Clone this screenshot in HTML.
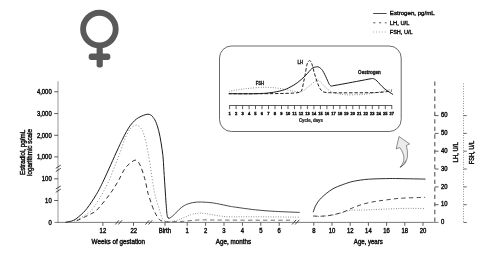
<!DOCTYPE html>
<html>
<head>
<meta charset="utf-8">
<title>Estrogen, LH and FSH levels</title>
<style>
html,body{margin:0;padding:0;background:#fff;}
body{width:496px;height:257px;overflow:hidden;}
svg{display:block;}
text{font-family:"Liberation Sans",sans-serif;fill:#111;stroke:#111;stroke-width:0.4px;}
.t{font-size:6.3px;}
.s{font-size:4.4px;font-weight:bold;stroke-width:0.1px;}
.ax{stroke:#a8a8a8;stroke-width:1;fill:none;}
.axx{stroke:#5a5a5a;stroke-width:0.8;fill:none;}
.tk{stroke:#333;stroke-width:0.8;fill:none;}
.sol{stroke:#1a1a1a;stroke-width:1;fill:none;stroke-linecap:round;stroke-linejoin:round;}
.das{stroke:#1a1a1a;stroke-width:0.9;fill:none;stroke-dasharray:4.3 3.25;}
.dot{stroke:#555;stroke-width:0.8;fill:none;stroke-dasharray:0.8 1.65;}
</style>
</head>
<body>
<svg width="496" height="257" viewBox="0 0 496 257">
<rect width="496" height="257" fill="#fff"/>

<!-- female symbol -->
<circle cx="99.4" cy="29.1" r="16.3" stroke="#595959" stroke-width="5.9" fill="none"/>
<rect x="96.6" y="46.5" width="6.2" height="21.1" rx="2.3" fill="#595959"/>
<rect x="88.7" y="53.4" width="21.6" height="6.5" rx="2.6" fill="#595959"/>

<!-- legend -->
<line class="sol" x1="373.2" y1="13.5" x2="386.6" y2="13.5" style="stroke:#333;stroke-width:0.9;stroke-linecap:butt"/>
<line class="das" x1="373.2" y1="22.8" x2="386.6" y2="22.8" style="stroke-dasharray:2.2 3.6;stroke:#444"/>
<line class="dot" x1="373.2" y1="32" x2="386.6" y2="32" style="stroke-dasharray:0.8 2.1;stroke:#777"/>
<text class="t" style="font-size:6.1px" x="389.8" y="15" textLength="44.9" lengthAdjust="spacingAndGlyphs">Estrogen, pg/mL</text>
<text class="t" style="font-size:6.1px" x="389.8" y="24.9" textLength="19.6" lengthAdjust="spacingAndGlyphs">LH, U/L</text>
<text class="t" style="font-size:6.1px" x="389.8" y="34.2" textLength="22.7" lengthAdjust="spacingAndGlyphs">FSH, U/L</text>

<!-- inset box -->
<rect x="219.5" y="46" width="181.7" height="85.5" rx="12" ry="12" fill="#fff" stroke="#444" stroke-width="0.8"/>
<!-- inset axis -->
<g class="tk" id="insetticks">
<line x1="229.2" y1="105.5" x2="392.1" y2="105.5"/>
<line x1="229.6" y1="105.5" x2="229.6" y2="109.2"/>
<line x1="236.1" y1="105.5" x2="236.1" y2="109.2"/>
<line x1="242.6" y1="105.5" x2="242.6" y2="109.2"/>
<line x1="249.1" y1="105.5" x2="249.1" y2="109.2"/>
<line x1="255.5" y1="105.5" x2="255.5" y2="109.2"/>
<line x1="262.0" y1="105.5" x2="262.0" y2="109.2"/>
<line x1="268.5" y1="105.5" x2="268.5" y2="109.2"/>
<line x1="275.0" y1="105.5" x2="275.0" y2="109.2"/>
<line x1="281.5" y1="105.5" x2="281.5" y2="109.2"/>
<line x1="288.0" y1="105.5" x2="288.0" y2="109.2"/>
<line x1="294.5" y1="105.5" x2="294.5" y2="109.2"/>
<line x1="300.9" y1="105.5" x2="300.9" y2="109.2"/>
<line x1="307.4" y1="105.5" x2="307.4" y2="109.2"/>
<line x1="313.9" y1="105.5" x2="313.9" y2="109.2"/>
<line x1="320.4" y1="105.5" x2="320.4" y2="109.2"/>
<line x1="326.9" y1="105.5" x2="326.9" y2="109.2"/>
<line x1="333.4" y1="105.5" x2="333.4" y2="109.2"/>
<line x1="339.9" y1="105.5" x2="339.9" y2="109.2"/>
<line x1="346.3" y1="105.5" x2="346.3" y2="109.2"/>
<line x1="352.8" y1="105.5" x2="352.8" y2="109.2"/>
<line x1="359.3" y1="105.5" x2="359.3" y2="109.2"/>
<line x1="365.8" y1="105.5" x2="365.8" y2="109.2"/>
<line x1="372.3" y1="105.5" x2="372.3" y2="109.2"/>
<line x1="378.8" y1="105.5" x2="378.8" y2="109.2"/>
<line x1="385.3" y1="105.5" x2="385.3" y2="109.2"/>
<line x1="391.8" y1="105.5" x2="391.8" y2="109.2"/>
</g>
<g class="s" style="font-size:4.3px;stroke-width:0.15px" text-anchor="middle" id="insetlabels">
<text x="229.6" y="114.8" textLength="2.3" lengthAdjust="spacingAndGlyphs">1</text>
<text x="236.1" y="114.8" textLength="2.3" lengthAdjust="spacingAndGlyphs">2</text>
<text x="242.6" y="114.8" textLength="2.3" lengthAdjust="spacingAndGlyphs">3</text>
<text x="249.1" y="114.8" textLength="2.3" lengthAdjust="spacingAndGlyphs">4</text>
<text x="255.5" y="114.8" textLength="2.3" lengthAdjust="spacingAndGlyphs">5</text>
<text x="262.0" y="114.8" textLength="2.3" lengthAdjust="spacingAndGlyphs">6</text>
<text x="268.5" y="114.8" textLength="2.3" lengthAdjust="spacingAndGlyphs">7</text>
<text x="275.0" y="114.8" textLength="2.3" lengthAdjust="spacingAndGlyphs">8</text>
<text x="281.5" y="114.8" textLength="2.3" lengthAdjust="spacingAndGlyphs">9</text>
<text x="288.0" y="114.8" textLength="4.4" lengthAdjust="spacingAndGlyphs">10</text>
<text x="294.5" y="114.8" textLength="4.4" lengthAdjust="spacingAndGlyphs">11</text>
<text x="300.9" y="114.8" textLength="4.4" lengthAdjust="spacingAndGlyphs">12</text>
<text x="307.4" y="114.8" textLength="4.4" lengthAdjust="spacingAndGlyphs">13</text>
<text x="313.9" y="114.8" textLength="4.4" lengthAdjust="spacingAndGlyphs">14</text>
<text x="320.4" y="114.8" textLength="4.4" lengthAdjust="spacingAndGlyphs">15</text>
<text x="326.9" y="114.8" textLength="4.4" lengthAdjust="spacingAndGlyphs">16</text>
<text x="333.4" y="114.8" textLength="4.4" lengthAdjust="spacingAndGlyphs">17</text>
<text x="339.9" y="114.8" textLength="4.4" lengthAdjust="spacingAndGlyphs">18</text>
<text x="346.3" y="114.8" textLength="4.4" lengthAdjust="spacingAndGlyphs">19</text>
<text x="352.8" y="114.8" textLength="4.4" lengthAdjust="spacingAndGlyphs">20</text>
<text x="359.3" y="114.8" textLength="4.4" lengthAdjust="spacingAndGlyphs">21</text>
<text x="365.8" y="114.8" textLength="4.4" lengthAdjust="spacingAndGlyphs">22</text>
<text x="372.3" y="114.8" textLength="4.4" lengthAdjust="spacingAndGlyphs">23</text>
<text x="378.8" y="114.8" textLength="4.4" lengthAdjust="spacingAndGlyphs">24</text>
<text x="385.3" y="114.8" textLength="4.4" lengthAdjust="spacingAndGlyphs">25</text>
<text x="391.8" y="114.8" textLength="4.4" lengthAdjust="spacingAndGlyphs">27</text>
</g>
<text class="s" style="font-size:4.8px;stroke-width:0.2px" x="310.9" y="121.9" text-anchor="middle" textLength="23.8" lengthAdjust="spacingAndGlyphs">Cycle, days</text>
<text class="s" style="font-size:4.8px;stroke-width:0.28px" x="259.8" y="84.9" text-anchor="middle" textLength="8.2" lengthAdjust="spacingAndGlyphs">FSH</text>
<text class="s" style="font-size:4.8px;stroke-width:0.28px" x="300.2" y="64.3" text-anchor="middle" textLength="5.4" lengthAdjust="spacingAndGlyphs">LH</text>
<text class="s" style="font-size:4.8px;stroke-width:0.28px" x="369.5" y="74.4" text-anchor="middle" textLength="22.8" lengthAdjust="spacingAndGlyphs">Oestrogen</text>

<!-- inset curves -->
<path class="dot" d="M229.0,91.3 C231.7,90.9 238.9,89.5 245.0,88.8 C251.1,88.1 259.5,87.3 265.3,87.3 C271.1,87.2 275.4,87.9 280.0,88.5 C284.6,89.1 289.3,90.4 292.6,91.0 C295.9,91.6 298.1,92.1 300.0,92.0 C301.9,91.9 302.2,91.5 304.0,90.2 C305.8,89.0 308.8,86.2 311.0,84.5 C313.2,82.8 315.6,80.5 317.3,80.2 C319.1,80.0 320.0,81.7 321.5,83.0 C323.0,84.3 324.8,86.7 326.5,88.2 C328.2,89.7 329.4,91.0 332.0,92.0 C334.6,93.0 338.3,93.9 342.0,94.4 C345.7,94.9 349.3,94.9 354.0,94.8 C358.7,94.7 363.7,94.5 370.0,93.6 C376.3,92.7 388.3,90.0 392.0,89.3"/>
<path class="das" d="M229.0,93.7 C234.2,93.7 250.7,93.8 260.0,93.7 C269.3,93.7 278.7,93.6 285.0,93.4 C291.3,93.2 295.2,93.1 298.0,92.6 C300.8,92.1 300.8,92.0 301.7,90.2 C302.6,88.4 303.1,84.3 303.7,81.6 C304.3,78.9 304.8,76.5 305.3,73.8 C305.8,71.1 306.3,67.2 306.8,65.2 C307.3,63.2 307.9,62.3 308.4,61.5 C308.9,60.7 309.2,60.6 309.6,60.6 C310.0,60.6 310.4,60.7 310.8,61.5 C311.2,62.3 311.8,63.4 312.3,65.2 C312.9,67.0 313.4,69.7 314.1,72.2 C314.8,74.7 315.7,77.7 316.5,80.0 C317.3,82.3 318.0,84.6 318.8,86.3 C319.6,88.0 320.2,89.2 321.2,90.2 C322.2,91.2 322.7,91.9 325.0,92.3 C327.3,92.7 327.5,92.7 335.0,92.8 C342.5,92.9 362.2,92.8 370.0,92.7 C377.8,92.6 378.3,92.5 382.0,92.2 C385.7,91.9 390.3,91.1 392.0,90.9" style="stroke-dasharray:3.4 1.8;stroke-dashoffset:0.8;stroke-width:1;stroke:#222"/>
<path class="sol" d="M229.0,93.7 C233.3,93.7 248.2,93.9 255.0,93.7 C261.8,93.5 265.4,93.4 270.0,92.8 C274.6,92.2 279.2,91.2 282.5,90.3 C285.8,89.4 287.4,88.5 290.0,87.2 C292.6,85.9 295.2,84.4 297.8,82.4 C300.4,80.4 303.3,77.7 305.6,75.4 C307.9,73.1 310.1,70.0 311.8,68.6 C313.5,67.2 314.5,67.2 315.7,67.0 C316.9,66.8 317.6,66.5 318.8,67.1 C320.0,67.7 321.4,68.8 322.7,70.7 C324.0,72.6 325.6,76.3 326.6,78.5 C327.7,80.7 328.4,82.6 329.0,83.8 C329.6,85.0 329.9,85.2 330.3,85.6 C330.7,86.0 331.0,86.0 331.6,86.0 C332.2,86.0 331.8,86.0 334.0,85.6 C336.2,85.2 340.7,84.4 345.0,83.6 C349.3,82.8 355.8,81.6 360.0,80.8 C364.2,80.0 367.9,79.3 370.0,78.9 C372.1,78.5 371.8,78.5 372.6,78.5 C373.4,78.5 373.9,78.8 374.6,79.2 C375.3,79.6 375.4,79.5 377.0,81.0 C378.6,82.5 381.5,86.2 384.1,88.4 C386.7,90.6 391.3,93.3 392.7,94.3"/>

<!-- arrow -->
<path d="M399,136.5 L409.6,143.9 L406.3,145.5 C407.3,149 407.8,153 407.3,157.5 C406.6,162 404,165.3 400.1,167.3 C402.6,164.5 403.9,161.5 403.9,158.3 C403.9,154.5 402.2,151 399.8,147.6 L396.2,148.8 Z" fill="#ececec" stroke="#444" stroke-width="0.6" stroke-linejoin="round"/>
<path d="M405.6,160.5 C404.8,163.5 403,165.6 400.1,167.3" fill="none" stroke="#333" stroke-width="0.5"/>

<!-- main axes -->
<line class="ax" x1="58" y1="81.3" x2="58" y2="223" style="stroke-width:1.3;stroke:#b0b0b0"/>
<line class="axx" x1="54.5" y1="222.4" x2="438.5" y2="222.4"/>

<!-- y ticks -->
<g class="tk">
<line x1="54.2" y1="91.8" x2="58" y2="91.8"/>
<line x1="54.2" y1="113.6" x2="58" y2="113.6"/>
<line x1="54.2" y1="135.3" x2="58" y2="135.3"/>
<line x1="54.2" y1="156.9" x2="58" y2="156.9"/>
<line x1="54.2" y1="178.8" x2="58" y2="178.8"/>
<line x1="54.2" y1="200.5" x2="58" y2="200.5"/>

<!-- y breaks -->
<g style="stroke-width:0.9">
<line x1="55.8" y1="168.3" x2="60.8" y2="165.1"/>
<line x1="55.8" y1="171.5" x2="60.8" y2="168.3"/>
<line x1="55.8" y1="189.1" x2="60.8" y2="185.9"/>
<line x1="55.8" y1="192.3" x2="60.8" y2="189.1"/>
</g>
<!-- x ticks -->
<line x1="102.9" y1="222.5" x2="102.9" y2="225.8"/>
<line x1="133.5" y1="222.5" x2="133.5" y2="225.8"/>
<line x1="165" y1="222.5" x2="165" y2="225.8"/>
<line x1="187.2" y1="222.5" x2="187.2" y2="225.8"/>
<line x1="205.6" y1="222.5" x2="205.6" y2="225.8"/>
<line x1="224" y1="222.5" x2="224" y2="225.8"/>
<line x1="242.4" y1="222.5" x2="242.4" y2="225.8"/>
<line x1="260.8" y1="222.5" x2="260.8" y2="225.8"/>
<line x1="279.2" y1="222.5" x2="279.2" y2="225.8"/>
<line x1="313.8" y1="222.5" x2="313.8" y2="225.8"/>
<line x1="332" y1="222.5" x2="332" y2="225.8"/>
<line x1="350.2" y1="222.5" x2="350.2" y2="225.8"/>
<line x1="368.4" y1="222.5" x2="368.4" y2="225.8"/>
<line x1="386.6" y1="222.5" x2="386.6" y2="225.8"/>
<line x1="404.8" y1="222.5" x2="404.8" y2="225.8"/>
<line x1="423" y1="222.5" x2="423" y2="225.8"/>
<!-- x breaks -->
<g style="stroke-width:0.9">
<line x1="115.3" y1="224.5" x2="118.9" y2="220.3"/>
<line x1="118.3" y1="224.5" x2="121.9" y2="220.3"/>
<line x1="145.5" y1="224.5" x2="149.1" y2="220.3"/>
<line x1="148.5" y1="224.5" x2="152.2" y2="220.3"/>
<line x1="292" y1="224.5" x2="296.2" y2="219.8"/>
<line x1="295.1" y1="224.5" x2="299.3" y2="219.8"/>
</g>
</g>

<!-- y labels -->
<g class="t" text-anchor="end">
<text x="51.7" y="94.1" textLength="14.8" lengthAdjust="spacingAndGlyphs">4,000</text>
<text x="51.7" y="115.9" textLength="14.8" lengthAdjust="spacingAndGlyphs">3,000</text>
<text x="51.7" y="137.6" textLength="14.8" lengthAdjust="spacingAndGlyphs">2,000</text>
<text x="51.7" y="159.2" textLength="14.8" lengthAdjust="spacingAndGlyphs">1,000</text>
<text x="51.7" y="181.1" textLength="9.9" lengthAdjust="spacingAndGlyphs">100</text>
<text x="51.7" y="202.8" textLength="6.6" lengthAdjust="spacingAndGlyphs">10</text>
<text x="51.7" y="224.5" textLength="3.3" lengthAdjust="spacingAndGlyphs">0</text>
</g>
<text class="t" transform="translate(24.8,152.4) rotate(-90)" text-anchor="middle" textLength="45" lengthAdjust="spacingAndGlyphs">Estradiol, pg/mL</text>
<text class="t" transform="translate(32.1,152.5) rotate(-90)" text-anchor="middle" textLength="46.9" lengthAdjust="spacingAndGlyphs">logarithmic scale</text>

<!-- x labels -->
<g class="t" text-anchor="middle">
<text x="102.9" y="232.6" textLength="6.6" lengthAdjust="spacingAndGlyphs">12</text>
<text x="133.8" y="232.6" textLength="6.6" lengthAdjust="spacingAndGlyphs">22</text>
<text x="164.9" y="232.6" textLength="12.3" lengthAdjust="spacingAndGlyphs">Birth</text>
<text x="187.2" y="232.6" textLength="3.3" lengthAdjust="spacingAndGlyphs">1</text>
<text x="205.6" y="232.6" textLength="3.3" lengthAdjust="spacingAndGlyphs">2</text>
<text x="224" y="232.6" textLength="3.3" lengthAdjust="spacingAndGlyphs">3</text>
<text x="242.4" y="232.6" textLength="3.3" lengthAdjust="spacingAndGlyphs">4</text>
<text x="260.8" y="232.6" textLength="3.3" lengthAdjust="spacingAndGlyphs">5</text>
<text x="279.2" y="232.6" textLength="3.3" lengthAdjust="spacingAndGlyphs">6</text>
<text x="313.8" y="232.6" textLength="3.3" lengthAdjust="spacingAndGlyphs">8</text>
<text x="332" y="232.6" textLength="6.6" lengthAdjust="spacingAndGlyphs">10</text>
<text x="350.2" y="232.6" textLength="6.6" lengthAdjust="spacingAndGlyphs">12</text>
<text x="368.4" y="232.6" textLength="6.6" lengthAdjust="spacingAndGlyphs">14</text>
<text x="386.6" y="232.6" textLength="6.6" lengthAdjust="spacingAndGlyphs">16</text>
<text x="404.8" y="232.6" textLength="6.6" lengthAdjust="spacingAndGlyphs">18</text>
<text x="423" y="232.6" textLength="6.6" lengthAdjust="spacingAndGlyphs">20</text>
<text x="118.3" y="243.9" textLength="53.5" lengthAdjust="spacingAndGlyphs">Weeks of gestation</text>
<text x="233.4" y="243.9" textLength="35.4" lengthAdjust="spacingAndGlyphs">Age, months</text>
<text x="368.3" y="243.9" textLength="28.9" lengthAdjust="spacingAndGlyphs">Age, years</text>
</g>

<!-- right axes -->
<line class="das" x1="434.8" y1="81.5" x2="434.8" y2="222.5" style="stroke:#555;stroke-width:1.1"/>
<line class="dot" x1="463.5" y1="83.6" x2="463.5" y2="222.7"/>
<g class="tk">
<line x1="434.8" y1="204.7" x2="438.5" y2="204.7"/>
<line x1="434.8" y1="186.9" x2="438.5" y2="186.9"/>
<line x1="434.8" y1="169.0" x2="438.5" y2="169.0"/>
<line x1="434.8" y1="151.2" x2="438.5" y2="151.2"/>
<line x1="434.8" y1="133.4" x2="438.5" y2="133.4"/>
<line x1="434.8" y1="115.6" x2="438.5" y2="115.6"/>
</g>
<g class="tk" style="stroke:#444">
<line x1="463.5" y1="222.5" x2="466.8" y2="222.5"/>
<line x1="463.5" y1="204.7" x2="466.8" y2="204.7"/>
<line x1="463.5" y1="186.9" x2="466.8" y2="186.9"/>
<line x1="463.5" y1="169.0" x2="466.8" y2="169.0"/>
<line x1="463.5" y1="151.2" x2="466.8" y2="151.2"/>
<line x1="463.5" y1="133.4" x2="466.8" y2="133.4"/>
<line x1="463.5" y1="115.6" x2="466.8" y2="115.6"/>
</g>
<g class="t">
<text x="440.9" y="224.1" textLength="3.3" lengthAdjust="spacingAndGlyphs">0</text>
<text x="440.9" y="206.3" textLength="6.6" lengthAdjust="spacingAndGlyphs">10</text>
<text x="440.9" y="188.5" textLength="6.6" lengthAdjust="spacingAndGlyphs">20</text>
<text x="440.9" y="170.6" textLength="6.6" lengthAdjust="spacingAndGlyphs">30</text>
<text x="440.9" y="152.8" textLength="6.6" lengthAdjust="spacingAndGlyphs">40</text>
<text x="440.9" y="135.0" textLength="6.6" lengthAdjust="spacingAndGlyphs">50</text>
<text x="440.9" y="117.2" textLength="6.6" lengthAdjust="spacingAndGlyphs">60</text>
</g>
<text class="t" transform="translate(457.9,152.3) rotate(-90)" text-anchor="middle" textLength="20.3" lengthAdjust="spacingAndGlyphs">LH, U/L</text>
<text class="t" transform="translate(474.1,152.6) rotate(-90)" text-anchor="middle" textLength="23.3" lengthAdjust="spacingAndGlyphs">FSH, U/L</text>

<!-- main curves -->
<path class="dot" d="M74.0,221.3 C74.7,220.9 76.6,220.0 78.4,219.0 C80.2,218.0 82.8,216.7 85.0,215.2 C87.2,213.7 88.9,213.4 91.7,210.0 C94.5,206.6 98.7,200.0 101.6,195.0 C104.5,190.0 106.8,185.3 109.2,180.0 C111.6,174.7 114.0,168.0 116.0,163.0 C118.0,158.0 119.5,154.1 121.0,150.0 C122.5,145.9 123.4,142.1 125.0,138.5 C126.6,134.9 128.6,130.8 130.5,128.6 C132.4,126.4 134.6,125.0 136.5,125.2 C138.4,125.4 140.3,127.0 141.8,129.6 C143.3,132.2 144.4,135.6 145.7,141.0 C147.0,146.4 148.2,153.8 149.7,162.3 C151.1,170.8 152.8,184.2 154.4,192.0 C156.0,199.8 157.8,204.4 159.2,209.0 C160.6,213.6 161.5,217.3 162.8,219.4 C164.1,221.5 166.3,221.2 167.0,221.6" style="stroke-dasharray:0.9 2.2"/>
<path class="dot" d="M167.0,221.6 C167.8,221.6 170.3,221.5 172.0,221.3 C173.7,221.1 174.9,221.0 176.9,220.4 C178.9,219.8 181.7,218.6 184.0,217.6 C186.3,216.6 189.0,215.3 191.0,214.6 C193.0,213.9 194.3,213.8 196.0,213.5 C197.7,213.2 199.3,213.1 200.9,213.1 C202.5,213.1 203.8,213.3 205.5,213.5 C207.2,213.7 208.3,214.1 210.8,214.5 C213.3,214.9 217.4,215.7 220.6,216.1 C223.8,216.5 226.8,216.7 230.0,216.8 C233.2,216.9 235.0,216.8 240.0,216.8 C245.0,216.8 250.1,216.7 260.0,216.8 C269.9,216.9 293.1,217.1 299.7,217.2"/>
<path class="das" d="M74.0,221.8 C74.5,221.6 75.1,221.5 76.7,220.8 C78.3,220.1 80.9,218.8 83.4,217.6 C85.9,216.4 89.5,214.7 91.8,213.4 C94.0,212.1 94.0,213.1 96.9,210.0 C99.8,206.9 105.7,199.7 109.2,195.0 C112.7,190.3 115.4,185.9 117.9,181.7 C120.4,177.5 122.0,173.1 124.0,170.0 C126.0,166.9 128.0,164.9 130.0,163.3 C132.0,161.7 134.4,159.7 136.2,160.2 C138.0,160.7 139.2,163.2 140.6,166.3 C142.0,169.4 143.5,174.2 144.7,178.5 C145.9,182.8 147.0,189.1 147.7,192.0 C148.4,194.9 147.8,192.7 148.8,195.8 C149.9,198.9 152.2,206.7 154.0,210.6 C155.8,214.5 157.5,217.6 159.3,219.4 C161.1,221.2 162.4,221.2 165.0,221.6" style="stroke-dashoffset:4.6"/>
<path class="das" d="M165.0,221.6 C167.6,222.0 171.7,221.8 175.0,221.7 C178.3,221.6 180.9,221.5 185.0,221.2 C189.1,220.9 193.7,220.1 199.5,219.9 C205.3,219.7 209.9,220.1 220.0,220.1 C230.1,220.1 247.7,220.2 260.0,220.2 C272.3,220.2 288.0,220.2 293.6,220.2" style="stroke-width:0.7;stroke:#333"/>
<path class="sol" d="M65.9,222.2 C67.2,221.9 71.0,221.5 73.4,220.4 C75.8,219.3 77.8,217.5 80.1,215.5 C82.4,213.5 84.3,211.9 87.0,208.4 C89.7,204.9 93.5,199.2 96.3,194.5 C99.1,189.8 100.3,187.4 103.8,180.0 C107.3,172.6 114.3,156.8 117.4,150.0 C120.5,143.2 120.9,142.5 122.4,139.4 C123.9,136.3 125.2,133.9 126.5,131.5 C127.8,129.1 129.2,127.0 130.5,125.2 C131.8,123.4 133.2,122.0 134.5,120.7 C135.8,119.4 137.1,118.5 138.6,117.6 C140.1,116.7 142.0,115.9 143.5,115.3 C145.0,114.7 146.6,114.3 147.8,114.2 C149.0,114.1 149.7,114.5 150.5,114.9 C151.3,115.3 151.8,115.6 152.6,116.7 C153.4,117.8 154.6,119.0 155.6,121.3 C156.6,123.6 157.8,127.2 158.7,130.7 C159.6,134.2 160.3,138.2 161.0,142.3 C161.7,146.5 162.4,150.9 162.9,155.6 C163.4,160.3 163.5,164.3 163.9,170.4 C164.3,176.5 164.9,186.0 165.3,192.0 C165.7,198.0 166.0,202.7 166.3,206.3 C166.6,209.9 166.7,211.7 166.9,213.5 C167.1,215.3 167.3,216.2 167.6,217.0 C167.9,217.8 168.3,218.2 168.7,218.3"/>
<path class="sol" d="M168.7,218.3 C169.1,218.5 169.5,218.2 170.0,217.9 C170.5,217.7 170.9,217.3 171.6,216.8 C172.3,216.3 172.5,216.2 174.1,214.7 C175.7,213.2 178.8,209.5 181.2,207.7 C183.5,205.9 185.6,204.7 188.2,203.8 C190.8,202.9 193.6,202.3 196.7,202.1 C199.8,201.8 203.2,202.1 206.5,202.3 C209.8,202.5 212.5,202.8 216.4,203.5 C220.3,204.2 226.9,205.7 230.0,206.3 C233.1,206.9 231.0,206.5 235.2,207.1 C239.4,207.7 248.6,209.1 255.3,209.8 C262.0,210.5 268.2,211.0 275.5,211.4 C282.8,211.8 295.3,212.2 299.3,212.4" style="stroke-width:0.8"/>
<path class="dot" d="M313.3,216.2 C314.6,216.2 318.3,216.5 321.4,216.3 C324.5,216.1 328.5,215.8 332.1,215.2 C335.7,214.5 340.0,213.2 342.8,212.4 C345.6,211.6 346.8,210.9 349.0,210.5 C351.2,210.1 353.5,210.1 356.0,210.0 C358.5,209.9 356.9,210.2 364.2,210.0 C371.5,209.8 389.9,208.8 400.0,208.5 C410.1,208.2 420.9,208.5 425.1,208.5"/>
<path class="das" d="M313.3,216.0 C314.6,216.0 318.3,216.4 321.4,216.2 C324.5,216.0 328.5,215.7 332.1,215.0 C335.7,214.3 339.2,213.4 342.8,212.2 C346.4,210.9 349.9,208.9 353.5,207.5 C357.1,206.1 360.6,204.8 364.2,203.8 C367.8,202.8 371.4,202.1 375.0,201.5 C378.6,200.9 381.5,200.5 385.7,200.0 C389.9,199.5 393.4,198.8 400.0,198.3 C406.6,197.9 420.9,197.5 425.1,197.3" style="stroke-width:0.8"/>
<path class="sol" d="M313.3,211.8 C313.8,210.7 314.6,207.3 316.0,205.0 C317.4,202.7 318.7,200.4 321.4,197.8 C324.1,195.2 328.5,191.5 332.1,189.3 C335.7,187.1 339.2,185.9 342.8,184.6 C346.4,183.3 349.2,182.2 353.5,181.3 C357.8,180.4 363.1,179.6 368.5,179.2 C373.9,178.8 380.4,178.7 385.7,178.6 C390.9,178.5 393.4,178.5 400.0,178.6 C406.6,178.7 420.9,179.0 425.1,179.1" style="stroke-width:0.9"/>
</svg>
</body>
</html>
